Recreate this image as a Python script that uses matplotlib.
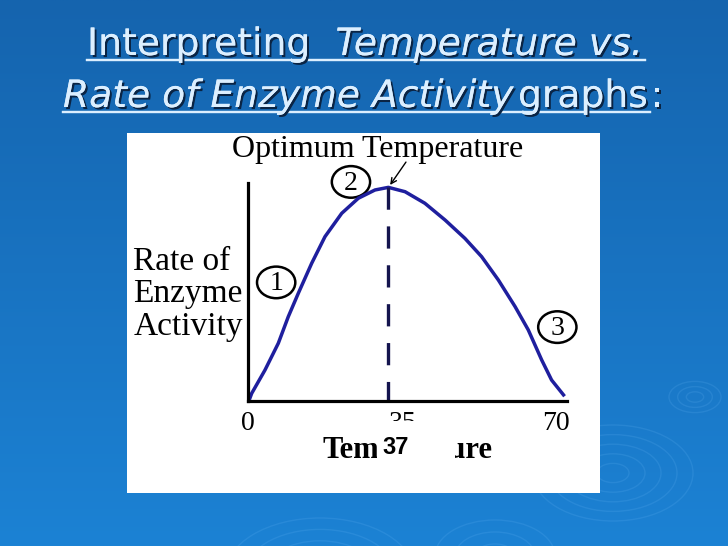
import numpy as np
import matplotlib
matplotlib.use('Agg')
import matplotlib.pyplot as plt
import matplotlib.patheffects as pe
from matplotlib.patches import Rectangle, Ellipse
from matplotlib.lines import Line2D

# curve (temperature, relative rate)
temp = [0.45, 0.84, 3.86, 6.89, 9.16, 11.43, 14.48, 17.5, 21.3, 25.07, 28.86, 31.9,
        35.7, 40.2, 44.8, 49.3, 53.1, 56.9, 60.7, 63.7, 66.75, 69.0, 71.7]
rate = [1.4, 3.5, 14.2, 26.5, 38.7, 49.4, 63.2, 75.4, 86.1, 93.0, 96.8, 98.0,
        96.0, 90.7, 83.0, 74.6, 66.2, 55.5, 43.3, 32.6, 18.8, 9.6, 2.8]
xticks = [0, 35, 70]
stage_labels = ['1', '2', '3']
stage_t = [6.4, 23.4, 70.3]
stage_v = [54.4, 100.5, 33.9]

plt.rcParams['font.family'] = ['Liberation Serif', 'DejaVu Serif']
plt.rcParams['lines.scale_dashes'] = False

W, H = 728, 546
fig = plt.figure(figsize=(W / 100, H / 100), dpi=100)


def fx(px):
    return px / W


def fy(py):
    return 1 - py / H


# slide background
bg = fig.add_axes([0, 0, 1, 1], zorder=-2)
top = np.array([21, 100, 174]) / 255
bot = np.array([28, 130, 212]) / 255
g = np.linspace(0, 1, 256)[:, None, None]
grad = top + (bot - top) * g
bg.imshow(np.repeat(grad, 4, axis=1), extent=[0, W, H, 0], aspect='auto')
for cx, cy, rmax, n in [(695, 397, 26, 3), (613, 473, 80, 5), (320, 575, 95, 5), (495, 556, 60, 3)]:
    for k in range(1, n + 1):
        r = rmax * k / n
        bg.add_patch(Ellipse((cx, cy), 2 * r, 1.2 * r, fill=False, ec='#7cc4ff', lw=1.0, alpha=0.14))
bg.set_xlim(0, W)
bg.set_ylim(H, 0)
bg.axis('off')

# white panel holding the graph
fig.add_artist(Rectangle((fx(127), fy(493)), (600 - 127) / W, (493 - 133) / H,
                         transform=fig.transFigure, fc='white', ec='none', zorder=-1))

ax = fig.add_axes([fx(248), fy(401), 319 / W, 218 / H], zorder=1)
ax.patch.set_alpha(0)
ax.set_xlim(0, 72.5)
ax.set_ylim(0, 100)
for s in ['top', 'right']:
    ax.spines[s].set_visible(False)
for s in ['left', 'bottom']:
    ax.spines[s].set_linewidth(2.3)
    ax.spines[s].set_color('black')
ax.set_yticks([])
ax.set_xticks(xticks)
ax.tick_params(axis='x', length=0, pad=7, labelsize=20)

ax.plot(temp, rate, color='#1f1f9e', lw=2.5, clip_on=False, solid_joinstyle='round')
i_opt = int(np.argmax(rate))
ax.plot([temp[i_opt], temp[i_opt]], [rate[i_opt], 0], color='#14144e', lw=2.4,
        dashes=(16, 12))

ax.set_xlabel('Temperature', fontsize=22, fontweight='bold', labelpad=0)
ax.set_ylabel('Rate of\nEnzyme\nActivity', rotation=0, fontsize=24, ha='left',
              va='center', linespacing=1.08)
ax.yaxis.set_label_coords(-0.36, 0.49)

ax.text(29.5, 115.5, 'Optimum Temperature', ha='center', va='center', fontsize=23,
        clip_on=False)
ax.annotate('', xy=(32.3, 99.1), xytext=(35.9, 109.6), annotation_clip=False,
            arrowprops=dict(arrowstyle='->', lw=1, color='black', shrinkA=0, shrinkB=0))

for lab, t, v in zip(stage_labels, stage_t, stage_v):
    ax.add_patch(Ellipse((t, v), 8.7, 14.5, fill=False, ec='black', lw=1.8, clip_on=False))
    ax.text(t, v - 0.5, lab, ha='center', va='center', fontsize=20, clip_on=False)

# white box pasted over the axis label with "37"
fig.add_artist(Rectangle((fx(377), fy(478)), 78 / W, 57 / H, transform=fig.transFigure,
                         fc='white', ec='none', zorder=5))
fig.text(fx(396), fy(447), '37', ha='center', va='center', fontsize=17, fontweight='bold',
         family=['Liberation Sans Narrow', 'Liberation Sans'], zorder=6)

# title with mixed styles, underlined
title_col = '#dcefff'
shadow = [pe.withSimplePatchShadow(offset=(1.5, -1.5), shadow_rgbFace='#0a2444', alpha=1.0),
          pe.Normal()]
renderer = fig.canvas.get_renderer()


def title_line(pieces, base_py, left_px, right_px):
    texts = []
    for s, st, ul, gap in pieces:
        t = fig.text(0, fy(base_py), s, fontsize=24, style=st, family='DejaVu Sans',
                     color=title_col, va='baseline', ha='left', path_effects=shadow, zorder=3)
        texts.append(t)
    gaps = sum(p[3] for p in pieces)
    w = sum(t.get_window_extent(renderer).width for t in texts)
    size = 24 * (right_px - left_px - gaps) / w
    x = left_px
    ul0, ul1 = None, None
    for t, (s, st, ul, gap) in zip(texts, pieces):
        t.set_fontsize(size)
        t.set_x(fx(x))
        tw = t.get_window_extent(renderer).width
        if ul:
            ul0 = x if ul0 is None else ul0
            ul1 = x + tw
        x += tw + gap
    fig.add_artist(Line2D([fx(ul0), fx(ul1 + 2)], [fy(base_py + 5), fy(base_py + 5)],
                          transform=fig.transFigure, color=title_col, lw=1.6,
                          path_effects=shadow, zorder=3))


title_line([('Interpreting', 'normal', True, 25), ('Temperature vs.', 'italic', True, 0)],
           55, 87, 643)
title_line([('Rate of Enzyme Activity', 'italic', True, 5), ('graphs', 'normal', True, 3),
            (':', 'normal', False, 0)], 107, 63, 665)

fig.savefig('out.png', dpi=100)
